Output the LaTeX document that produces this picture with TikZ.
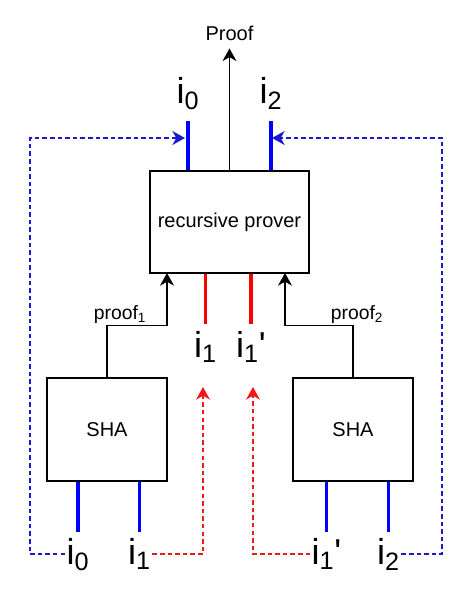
\documentclass[tikz,border=0pt]{standalone}
\usepackage{fontspec}
\setmainfont{Liberation Sans}
\usetikzlibrary{arrows.meta,positioning}
\definecolor{pinblue}{RGB}{0,0,255}
\definecolor{dashblue}{RGB}{25,25,210}
\definecolor{pinred}{RGB}{255,0,0}
\definecolor{dashred}{RGB}{240,25,25}
\tikzset{
  box/.style      ={rectangle,draw,line width=1pt,align=center,
                    font=\fontsize{15}{18}\selectfont},
  prover/.style   ={box,minimum width=119.25pt,minimum height=76.5pt},
  shabox/.style   ={box,minimum width=90pt,minimum height=77.25pt},
  biglabel/.style ={inner sep=1pt,anchor=base,font=\fontsize{27}{32}\selectfont},
  smalllabel/.style={inner sep=1pt,font=\fontsize{14.5}{17}\selectfont},
  bluepin/.style  ={pinblue,line width=2.4pt},
  redpin/.style   ={pinred,line width=2.4pt},
  arr/.style      ={-{Stealth[length=9.5pt,width=10.5pt,inset=3pt]},line width=1.05pt},
  bluedash/.style ={arr,dashblue,dash pattern=on 3.4pt off 2.3pt},
  reddash/.style  ={arr,dashred,dash pattern=on 3.4pt off 2.3pt}
}
\begin{document}
\begin{tikzpicture}[x=0.75pt,y=-0.75pt]
  \useasboundingbox (0,0) rectangle (474,601);
  % Nodes
  \node (rec)   [prover] at (229.5,222) {recursive prover};
  \node (sha1)  [shabox] at (107,429.5) {SHA};
  \node (sha2)  [shabox] at (353,429.5) {SHA};
  \node (proof) [smalllabel,anchor=base,font=\fontsize{15}{18}\selectfont] at (229.5,40) {Proof};

  % Labels
  \node (i0t)  [biglabel] at (188,103)   {i\textsubscript{0}};
  \node (i2t)  [biglabel] at (271,103)   {i\textsubscript{2}};
  \node (i1m)  [biglabel] at (205.5,357) {i\textsubscript{1}};
  \node (i1pm) [biglabel] at (251,357)   {i\textsubscript{1}\textquotesingle};
  \node (i0b)  [biglabel] at (78,564)    {i\textsubscript{0}};
  \node (i1b)  [biglabel] at (139.5,564) {i\textsubscript{1}};
  \node (i1pb) [biglabel] at (326.5,564) {i\textsubscript{1}\textquotesingle};
  \node (i2b)  [biglabel] at (388.5,564) {i\textsubscript{2}};

  \coordinate (in1)   at (167,273);
  \coordinate (in2)   at (285,273);
  \coordinate (lft)   at (30,138);
  \coordinate (rgt)   at (442,138);
  \coordinate (tip0)  at (185,138);
  \coordinate (tip2)  at (272,138);
  \coordinate (r1tip) at (203,387);
  \coordinate (r2tip) at (253,387);

  % Pins
  \draw [bluepin, shorten <=7.7pt] (i0t.south) -- (rec.north -| i0t);
  \draw [bluepin, shorten <=7.7pt] (i2t.south) -- (rec.north -| i2t);
  \draw [redpin, shorten >=3.7pt] (rec.south -| i1m) -- (i1m.north);
  \draw [redpin, shorten >=3.7pt] (rec.south -| i1pm) -- (i1pm.north);
  \draw [bluepin, shorten >=2.9pt] (sha1.south -| i0b) -- (i0b.north);
  \draw [bluepin, shorten >=2.9pt] (sha1.south -| i1b) -- (i1b.north);
  \draw [bluepin, shorten >=2.9pt] (sha2.south -| i1pb) -- (i1pb.north);
  \draw [bluepin, shorten >=2.9pt] (sha2.south -| i2b) -- (i2b.north);

  % Arrows
  \draw [arr, shorten >=5pt] (rec.north) -- (proof.south);
  \draw [arr] (sha1.north) -- ++(0,-52)
        node[smalllabel, above, xshift=9.75pt] {proof\textsubscript{1}} -| (in1);
  \draw [arr] (sha2.north) -- ++(0,-52)
        node[smalllabel, above, xshift=3pt] {proof\textsubscript{2}} -| (in2);
  \draw [bluedash] (i0b.west) -| (lft) -- (tip0);
  \draw [bluedash] (i2b.east) -| (rgt) -- (tip2);
  \draw [reddash] (i1b.east) -| (r1tip);
  \draw [reddash] (i1pb.west) -| (r2tip);
\end{tikzpicture}
\end{document}
